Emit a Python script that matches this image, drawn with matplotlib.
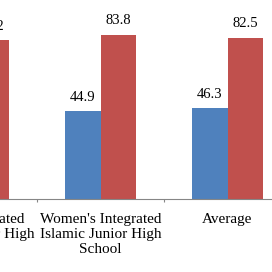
import matplotlib
matplotlib.use("Agg")
import matplotlib.pyplot as plt
import numpy as np

# data
categories = ["Men's Integrated\nIslamic Junior High\nSchool",
              "Women's Integrated\nIslamic Junior High\nSchool",
              "Average"]
series_blue = [47.7, 44.9, 46.3]
series_red = [81.2, 83.8, 82.5]

BLUE = '#4F81BD'
RED = '#C0504D'

plt.rcParams['font.family'] = ['Liberation Serif', 'DejaVu Serif']

fig = plt.figure(figsize=(2.72, 2.72), dpi=100)
# the reference is a crop of a wider chart, so the axes run past the edges
ax = fig.add_axes([-90 / 272, 73 / 272, 381 / 272, 176 / 272])

x = np.arange(len(categories))
w = 0.283

bars_b = ax.bar(x - w / 2, series_blue, w, color=BLUE)
bars_r = ax.bar(x + w / 2, series_red, w, color=RED)

for bars, vals in ((bars_b, series_blue), (bars_r, series_red)):
    for b, v in zip(bars, vals):
        ax.annotate(f"{v:.1f}", (b.get_x() + b.get_width() / 2, v),
                    xytext=(0, 5.5), textcoords='offset points',
                    ha='center', va='bottom', fontsize=10.5)

ax.set_xlim(-0.5, 2.5)
ax.set_ylim(0, 90)
ax.set_xticks(np.arange(-0.5, 3, 1.0), minor=False)
ax.set_xticklabels([])
ax.set_xticks(x, minor=True)
ax.set_xticklabels(categories, minor=True, fontsize=11, linespacing=1.2)
ax.tick_params(axis='x', which='major', length=2.5, color='#868686', direction='out')
ax.tick_params(axis='x', which='minor', length=0, pad=10)
ax.set_yticks([])

for s in ('top', 'right', 'left'):
    ax.spines[s].set_visible(False)
ax.spines['bottom'].set_color('#868686')
ax.spines['bottom'].set_linewidth(0.8)

fig.savefig('out.png', dpi=100)
